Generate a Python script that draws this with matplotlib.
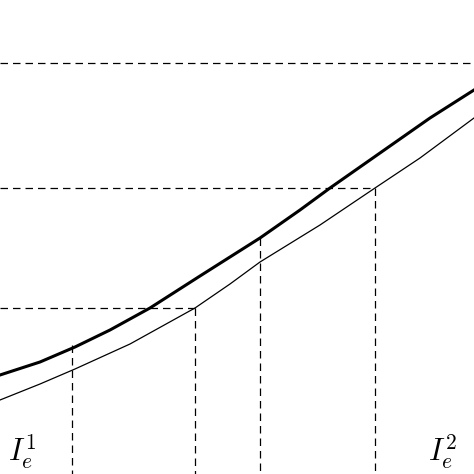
import matplotlib
matplotlib.use("Agg")
import matplotlib.pyplot as plt

plt.rcParams['mathtext.fontset'] = 'cm'

# curves (pixel-space coordinates, y downward)
thick_x = [0, 40, 75, 110, 150, 200, 260, 300, 330, 380, 430, 474]
thick_y = [375, 362, 347, 330, 308, 276, 238, 210, 188, 153, 118, 90]
thin_x = [0, 40, 75, 130, 195, 230, 260, 320, 375, 420, 474]
thin_y = [400, 384, 369, 344, 308, 284, 262, 225, 188, 158, 118]

# dashed guides
h_y = [63, 188, 308]
h_xend = [474, 375, 195]
v_x = [72, 195, 260, 375]
v_ytop = [345, 308, 238, 188]

fig = plt.figure(figsize=(4.74, 4.74), dpi=100)
ax = fig.add_axes([0, 0, 1, 1])
ax.set_xlim(0, 474)
ax.set_ylim(474, 0)
ax.axis('off')

ax.plot(thick_x, thick_y, color='black', lw=2.2)
ax.plot(thin_x, thin_y, color='black', lw=0.9)
for y, xe in zip(h_y, h_xend):
    ax.plot([0, xe], [y, y], color='black', lw=0.9, ls=(0, (6, 4)))
for x, yt in zip(v_x, v_ytop):
    ax.plot([x, x], [yt, 474], color='black', lw=0.9, ls=(0, (6, 4)))

ax.text(22, 452, r'$I_e^1$', fontsize=22, ha='center', va='center')
ax.text(442, 452, r'$I_e^2$', fontsize=22, ha='center', va='center')

fig.savefig('out.png', dpi=100)
